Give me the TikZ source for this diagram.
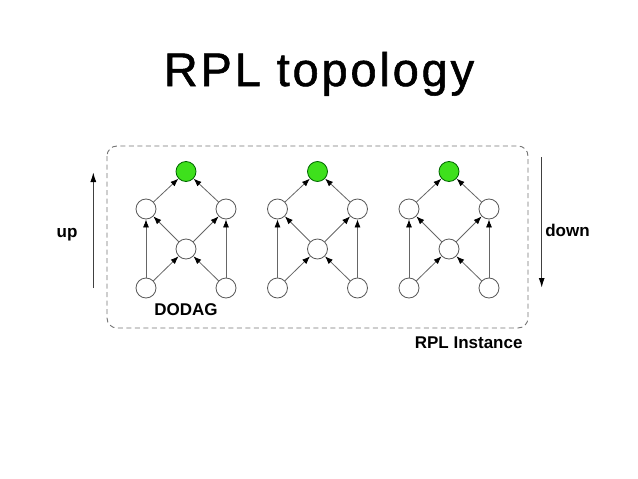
\documentclass[tikz,border=0pt]{standalone}
\usepackage{fontspec}
\setmainfont{Liberation Sans}
\newfontfamily\titlefont[LetterSpace=6,FakeBold=1.2]{Liberation Sans}
\usetikzlibrary{arrows.meta}
\definecolor{rootgreen}{RGB}{62,224,28}
\tikzset{
  vertex/.style={circle,draw=black!65,line width=0.8pt,fill=white,minimum size=20pt,inner sep=0pt},
  rootvertex/.style={vertex,fill=rootgreen,draw=black!60!green},
  edge/.style={draw=black!60,line width=0.8pt,-{Latex[length=8pt,width=6pt,color=black]}},
  bigarrow/.style={draw=black!75,line width=1.3pt,-{Latex[length=10pt,width=6pt,color=black]}},
  lbl/.style={font=\bfseries\fontsize{17}{17}\selectfont,anchor=base}
}

\begin{document}
\begin{tikzpicture}[x=1pt,y=-1pt]
			%%%%% START %%%%%
			\useasboundingbox (0,0) rectangle (638,479);
			
			\node[font=\titlefont\fontsize{47}{47}\selectfont,anchor=base] (title) at (319,86) {RPL topology};
			
			\draw[draw=black!55,line width=0.9pt,dash pattern=on 5pt off 3.5pt,rounded corners=10pt] (107,146) rectangle (528,328);
			
			\foreach \cx [count=\i] in {186,317.5,449}{
				\node[rootvertex] (r\i) at (\cx,171.5) {};
				\node[vertex] (a\i) at (\cx-40,209) {};
				\node[vertex] (b\i) at (\cx+40,209) {};
				\node[vertex] (c\i) at (\cx,249) {};
				\node[vertex] (d\i) at (\cx-40,288) {};
				\node[vertex] (e\i) at (\cx+40,288) {};
				
				\draw[edge] (a\i) -- (r\i);
				\draw[edge] (b\i) -- (r\i);
				\draw[edge] (c\i) -- (a\i);
				\draw[edge] (c\i) -- (b\i);
				\draw[edge] (d\i) -- (a\i);
				\draw[edge] (d\i) -- (c\i);
				\draw[edge] (e\i) -- (c\i);
				\draw[edge] (e\i) -- (b\i);
			}
			
			\coordinate (upfoot) at (93.3,288);
			\coordinate (uphead) at (93.3,172);
			\draw[bigarrow] (upfoot) -- (uphead);
			\coordinate (downfoot) at (541.7,157);
			\coordinate (downhead) at (541.7,288);
			\draw[bigarrow] (downfoot) -- (downhead);
			
			\node[lbl] (up) at (67,237) {up};
			\node[lbl] (down) at (567.5,236.7) {down};
			\node[lbl] (dodag) at (186,315.7) {DODAG};
			\node[lbl] (instance) at (468.7,348) {RPL Instance};
			%%%%% END %%%%%
\end{tikzpicture}
\end{document}
